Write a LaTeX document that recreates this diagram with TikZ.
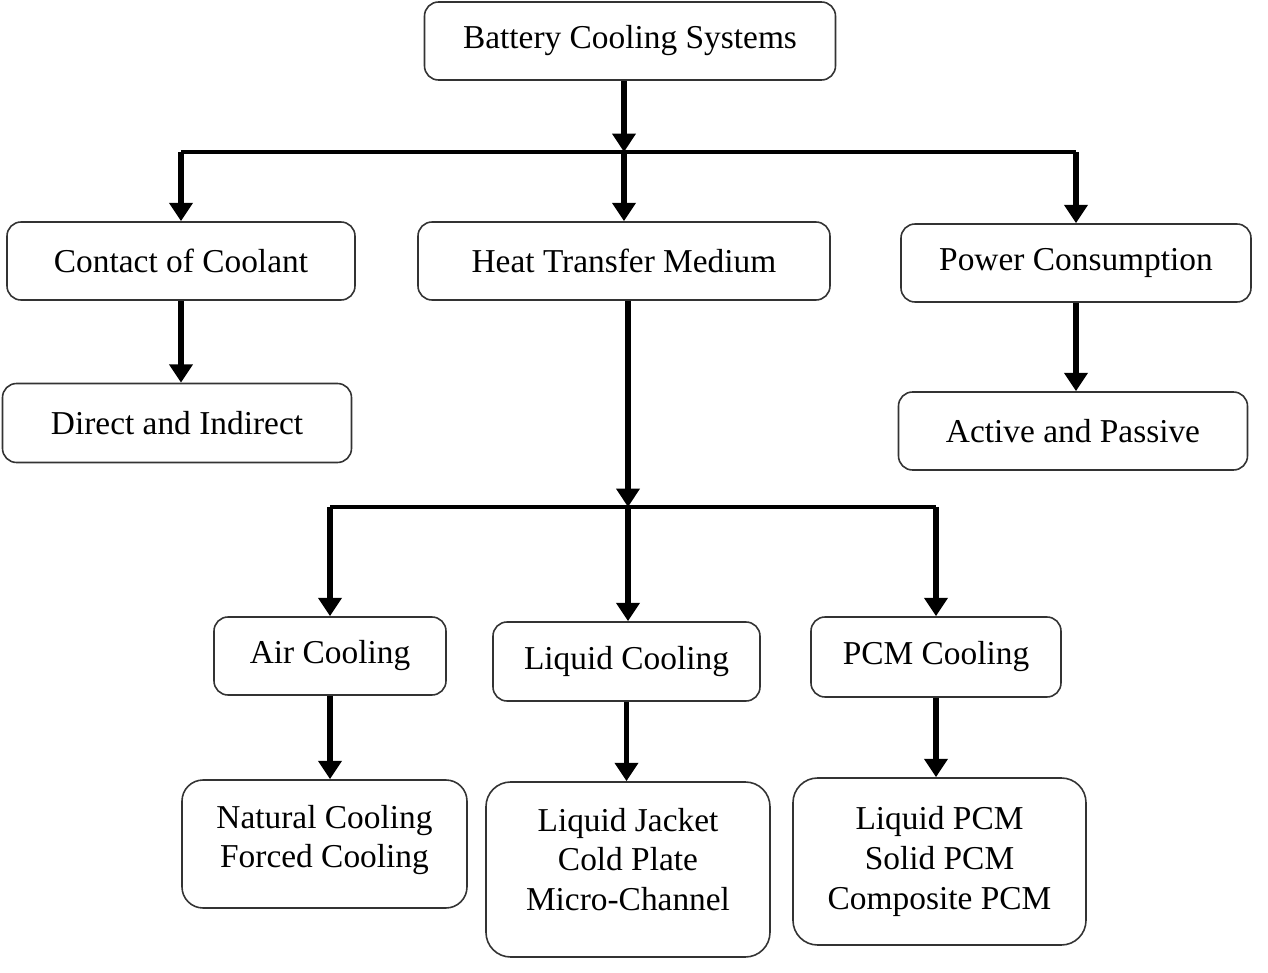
\documentclass[tikz,border=0pt]{standalone}
\usepackage{fontspec}
\setmainfont{Liberation Serif}
\usetikzlibrary{arrows.meta}

\begin{document}
\begin{tikzpicture}[
    box/.style={draw=black!80, line width=0.9pt, rounded corners=8pt, align=center,
        inner sep=0pt, font=\fontsize{19}{22.5}\selectfont},
    arr/.style={-{Triangle[length=10.5pt, width=13pt]}, line width=3pt},
    bar/.style={line width=1.8pt}
]
    \useasboundingbox (0,0) rectangle (25.36,-19.46);

    % top level
    \node[box, minimum width=8.22cm, minimum height=1.56cm] (top) at (12.6,-0.82) {Battery Cooling Systems};

    % second level
    \node[box, minimum width=6.96cm, minimum height=1.56cm] (coolant) at (3.62,-5.22) {Contact of Coolant};
    \node[box, minimum width=8.24cm, minimum height=1.56cm] (medium) at (12.48,-5.22) {Heat Transfer Medium};
    \node[box, minimum width=7.0cm, minimum height=1.56cm] (power) at (21.52,-5.26) {Power Consumption};

    \node[box, minimum width=6.98cm, minimum height=1.58cm] (direct) at (3.54,-8.46) {Direct and Indirect};
    \node[box, minimum width=6.98cm, minimum height=1.56cm] (active) at (21.46,-8.62) {Active and Passive};

    % cooling types
    \node[box, minimum width=4.64cm, minimum height=1.56cm] (air) at (6.6,-13.12) {Air Cooling};
    \node[box, minimum width=5.34cm, minimum height=1.58cm] (liquid) at (12.53,-13.23) {Liquid Cooling};
    \node[box, minimum width=5.0cm, minimum height=1.6cm] (pcm) at (18.72,-13.14) {PCM Cooling};

    \node[box, rounded corners=12pt, minimum width=5.7cm, minimum height=2.56cm, text depth=0.3cm] (natural) at (6.49,-16.88) {Natural Cooling\\Forced Cooling};
    \node[box, rounded corners=14pt, minimum width=5.68cm, minimum height=3.5cm, text depth=0.42cm] (jacket) at (12.56,-17.39) {Liquid Jacket\\Cold Plate\\Micro-Channel};
    \node[box, rounded corners=14pt, minimum width=5.86cm, minimum height=3.34cm] (lpcm) at (18.79,-17.23) {Liquid PCM\\Solid PCM\\Composite PCM};

    % first branch
    \coordinate (s1) at (12.48,-3.04);
    \draw[arr] (top.south -| s1) -- (s1);
    \draw[bar] (coolant.north |- s1) -- (power.north |- s1);
    \draw[arr] (coolant.north |- s1) -- (coolant.north);
    \draw[arr] (s1) -- (s1 |- medium.north);
    \draw[arr] (power.north |- s1) -- (power.north);

    \draw[arr] (coolant.south) -- (coolant.south |- direct.north);
    \draw[arr] (power.south) -- (power.south |- active.north);

    % second branch
    \coordinate (s2) at (12.56,-10.14);
    \draw[arr] (medium.south -| s2) -- (s2);
    \draw[bar] (air.north |- s2) -- (pcm.north |- s2);
    \draw[arr] (air.north |- s2) -- (air.north);
    \draw[arr] (s2) -- (s2 |- liquid.north);
    \draw[arr] (pcm.north |- s2) -- (pcm.north);

    \draw[arr] (air.south) -- (air.south |- natural.north);
    \draw[arr] (liquid.south) -- (liquid.south |- jacket.north);
    \draw[arr] (pcm.south) -- (pcm.south |- lpcm.north);
\end{tikzpicture}
\end{document}
